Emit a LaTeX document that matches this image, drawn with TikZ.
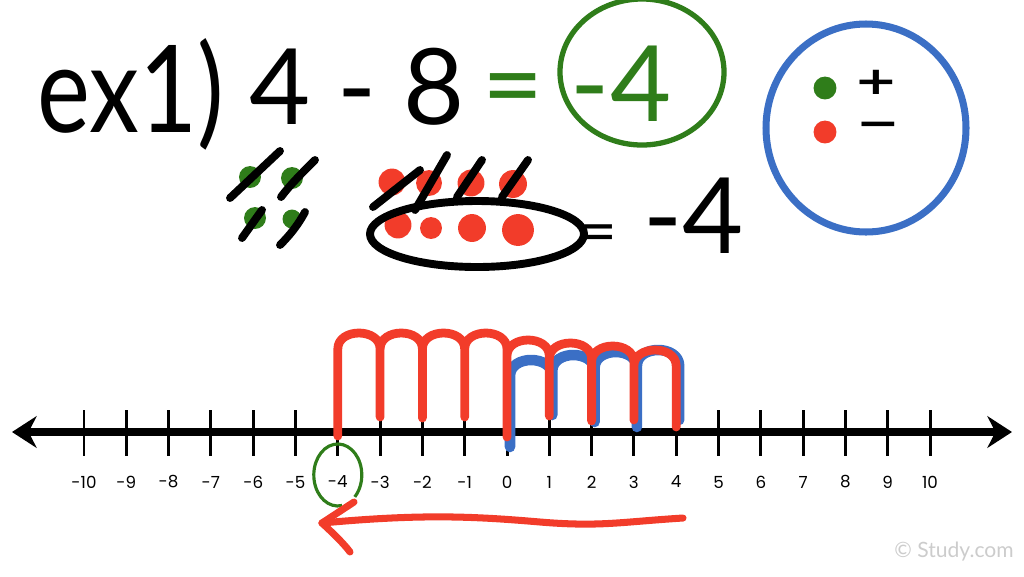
\documentclass[tikz,border=0pt]{standalone}
\usepackage{fontspec}
\usepackage{graphicx}
\setmainfont{Lato}
\newfontfamily\labfont{Poppins}
\newfontfamily\symfont{DejaVu Sans}
\usetikzlibrary{arrows.meta}
\definecolor{penred}{HTML}{F23C2A}
\definecolor{pengreen}{HTML}{2F7D1A}
\definecolor{penblue}{HTML}{3B6FC5}
\newcommand{\hand}{\fontsize{60}{66}\selectfont}

\begin{document}
\begin{tikzpicture}[x=0.02cm,y=-0.02cm,
  ink/.style={line width=4.5pt,line cap=round,line join=round},
  redjump/.style={penred,line width=5pt,line cap=round,line join=round},
  bluejump/.style={penblue,line width=6pt,line cap=round,line join=round},
  tick/.style={line width=1.7pt},
  sign/.style={font=\symfont\bfseries\fontsize{22}{22}\selectfont,inner sep=0pt},
  dot/.style={circle,inner sep=0pt,minimum size=#1*0.567pt},
  dot/.default=20]
\useasboundingbox (0,0) rectangle (1024,576);

\node[anchor=base] (ex) at (131,132) {\hand\scalebox{0.95}[1.15]{ex1)}};
\node[anchor=base] (lhs) at (357,124) {\hand 4 - 8};
\node[anchor=base,text=pengreen] (rhs) at (577,121) {\hand = -4};
\draw[pengreen,line width=3pt] (642,72) ellipse[x radius=82,y radius=73];

\foreach \x/\y/\r [count=\k] in {250/177/22,292/178/22,255/218/22,292/219/19}
  \node[dot=\r,fill=pengreen] (g\k) at (\x,\y) {};
\draw[ink] (230,198) -- (280,151);
\draw[ink] (281,197) .. controls (290,185) and (300,175) .. (315,160);
\draw[ink] (242,238) -- (262,210);
\draw[ink] (280,245) .. controls (290,235) and (298,225) .. (305,212);

\foreach \x/\y/\r [count=\k] in {392/182/27,429/183/26,471/183/27,513/184/28,398/225/27,431/228/22,472/228/28,518/230/32}
  \node[dot=\r,fill=penred] (r\k) at (\x,\y) {};
\draw[ink] (373,207) -- (420,170);
\draw[ink] (415,210) -- (447,155);
\draw[ink] (457,197) -- (482,160);
\draw[ink] (502,197) -- (528,160);
\draw[ink] (477,234) ellipse[x radius=107,y radius=33];
\node[anchor=base] (neg) at (662,253) {\hand{\fontsize{36}{40}\selectfont =} -4};

\draw[penblue,line width=4pt] (866,128) ellipse[x radius=100,y radius=104];
\node[dot=23,fill=pengreen] (gkey) at (825,88) {};
\node[dot=23,fill=penred] (rkey) at (825,132) {};
\node[sign] (plus) at (876,82) {\scalebox{1.35}[1]{+}};
\node[sign] (minus) at (878,129) {\scalebox{1.35}[1]{−}};

\coordinate (axL) at (12,432);
\coordinate (axR) at (1012,432);
\draw[line width=4pt,{Stealth[length=14pt,width=18pt]}-{Stealth[length=14pt,width=18pt]}] (axL) -- (axR);
\foreach \i in {-10,...,10} {
  \draw[tick] ({507+42.3*(\i)},410) -- ({507+42.3*(\i)},456);
  \node[font=\labfont\fontsize{9.5}{11}\selectfont] (n\i) at ({507+42.3*(\i)},482) {\i};
}

\draw[bluejump] (510,447) \foreach \i/\t/\b in {0/360/415,1/355/422,2/352/427,3/350/420} {
  -- ({510+42.3*(\i)},{\t+16}) .. controls ({510+42.3*(\i)},{\t-5.33}) and ({510+42.3*(\i+1)},{\t-5.33}) .. ({510+42.3*(\i+1)},{\t+16}) -- ({510+42.3*(\i+1)},\b)};
\draw[redjump] ({507+42.3*(-4)},436) \foreach \i/\t/\b in {-4/333/417,-3/333/418,-2/333/417,-1/333/437,0/340/416,1/343/421,2/346/420,3/350/427} {
  -- ({507+42.3*(\i)},{\t+16}) .. controls ({507+42.3*(\i)},{\t-5.33}) and ({507+42.3*(\i+1)},{\t-5.33}) .. ({507+42.3*(\i+1)},{\t+16}) -- ({507+42.3*(\i+1)},\b)};

\draw[pengreen,line width=1.8pt] ([yshift=4pt]n-4.center) ++(80:24 and 31) arc[start angle=80,end angle=405,x radius=24,y radius=31];

\coordinate (arrS) at (683,518);
\coordinate (arrT) at (322,523);
\draw[redjump,line width=4pt] (arrS) .. controls (620,522) and (600,527) .. (540,522) .. controls (470,516) and (420,514) .. (arrT);
\draw[redjump,line width=4pt] (arrT) -- (354,502);
\draw[redjump,line width=4pt] (arrT) .. controls (335,535) and (345,545) .. (350,552);

\node[text=black!20,font=\fontsize{12}{14}\selectfont] (wm) at (954,552) {© Study.com};
\end{tikzpicture}
\end{document}
